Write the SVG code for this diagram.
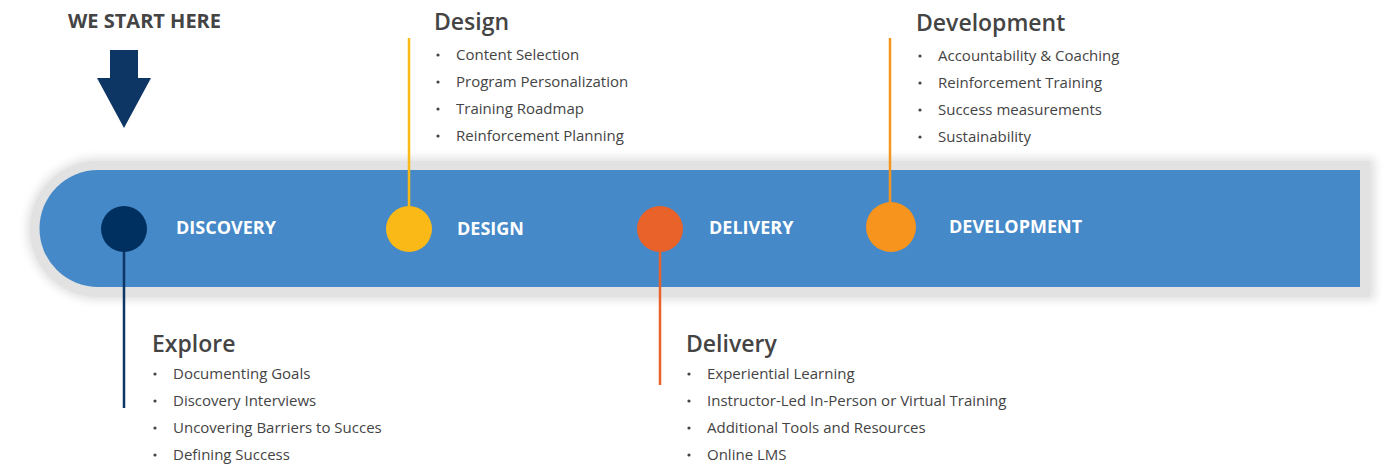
<svg xmlns="http://www.w3.org/2000/svg" width="1400" height="474" viewBox="0 0 1400 474">
<defs>
<style>
.h{font-family:"Open Sans","Liberation Sans",sans-serif;font-weight:600;font-size:23px;fill:#444}
.t{font-family:"Open Sans","Liberation Sans",sans-serif;font-size:15px;fill:#444}
.s{font-family:"Open Sans","Liberation Sans",sans-serif;font-weight:700;font-size:18px;fill:#fff}
.b{fill:#444}
</style>
<filter id="sh" x="-5%" y="-30%" width="110%" height="160%"><feGaussianBlur stdDeviation="5"/></filter>
</defs>
<rect width="1400" height="474" fill="#fff"/>
<g id="band">
<path d="M98 158 H1375 V300 H98 A71 71 0 0 1 98 158 Z" fill="#000" opacity="0.12" filter="url(#sh)"/>
<path d="M98 161 H1370 V297 H98 A68 68 0 0 1 98 161 Z" fill="#e2e2e2"/>
<path d="M98 170 H1360 V287 H98 A58.5 58.5 0 0 1 98 170 Z" fill="#4589c8"/>
</g>
<g id="start">
<text x="68" y="28" font-family="Open Sans, Liberation Sans, sans-serif" font-weight="700" font-size="20" fill="#444">WE START HERE</text>
<path d="M110 50 H138 V78 H151 L124 128 L97 78 H110 Z" fill="#0d3664"/>
</g>
<g id="connectors">
<line x1="124" y1="229" x2="124" y2="408" stroke="#0d3664" stroke-width="2.5"/>
<line x1="409" y1="38" x2="409" y2="229" stroke="#fbb917" stroke-width="2.5"/>
<line x1="660" y1="229" x2="660" y2="385" stroke="#e8622a" stroke-width="2.5"/>
<line x1="890" y1="38" x2="890" y2="227" stroke="#f7941d" stroke-width="2.5"/>
</g>
<g id="discovery"><circle cx="124" cy="229" r="23" fill="#003060"/><text class="s" x="176" y="234">DISCOVERY</text></g>
<g id="design"><circle cx="409" cy="229" r="23" fill="#fbb917"/><text class="s" x="457" y="235">DESIGN</text></g>
<g id="delivery"><circle cx="660" cy="229" r="23" fill="#e8622a"/><text class="s" x="709" y="234">DELIVERY</text></g>
<g id="development"><circle cx="891" cy="227" r="25" fill="#f7941d"/><text class="s" x="949" y="233">DEVELOPMENT</text></g>
<g id="design-list">
<text class="h" x="434" y="30">Design</text>
<circle class="b" cx="438" cy="55" r="1.6"/><text class="t" x="456" y="60">Content Selection</text>
<circle class="b" cx="438" cy="82" r="1.6"/><text class="t" x="456" y="87">Program Personalization</text>
<circle class="b" cx="438" cy="109" r="1.6"/><text class="t" x="456" y="114">Training Roadmap</text>
<circle class="b" cx="438" cy="136" r="1.6"/><text class="t" x="456" y="141">Reinforcement Planning</text>
</g>
<g id="development-list">
<text class="h" x="916" y="31">Development</text>
<circle class="b" cx="920" cy="56" r="1.6"/><text class="t" x="938" y="61">Accountability &amp; Coaching</text>
<circle class="b" cx="920" cy="83" r="1.6"/><text class="t" x="938" y="88">Reinforcement Training</text>
<circle class="b" cx="920" cy="110" r="1.6"/><text class="t" x="938" y="115">Success measurements</text>
<circle class="b" cx="920" cy="137" r="1.6"/><text class="t" x="938" y="142">Sustainability</text>
</g>
<g id="explore-list">
<text class="h" x="152" y="352">Explore</text>
<circle class="b" cx="155" cy="374" r="1.6"/><text class="t" x="173" y="379">Documenting Goals</text>
<circle class="b" cx="155" cy="401" r="1.6"/><text class="t" x="173" y="406">Discovery Interviews</text>
<circle class="b" cx="155" cy="428" r="1.6"/><text class="t" x="173" y="433">Uncovering Barriers to Succes</text>
<circle class="b" cx="155" cy="455" r="1.6"/><text class="t" x="173" y="460">Defining Success</text>
</g>
<g id="delivery-list">
<text class="h" x="686" y="352">Delivery</text>
<circle class="b" cx="689" cy="374" r="1.6"/><text class="t" x="707" y="379">Experiential Learning</text>
<circle class="b" cx="689" cy="401" r="1.6"/><text class="t" x="707" y="406">Instructor-Led In-Person or Virtual Training</text>
<circle class="b" cx="689" cy="428" r="1.6"/><text class="t" x="707" y="433">Additional Tools and Resources</text>
<circle class="b" cx="689" cy="455" r="1.6"/><text class="t" x="707" y="460">Online LMS</text>
</g>
</svg>
